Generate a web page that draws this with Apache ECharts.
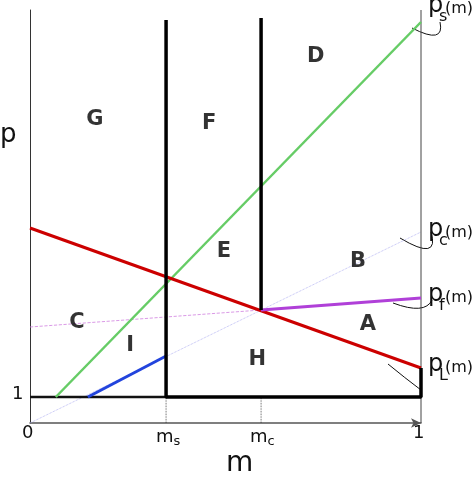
<!DOCTYPE html><html><head><meta charset="utf-8"><script src="https://cdn.jsdelivr.net/npm/echarts@6/dist/echarts.min.js"></script>
<style>html,body{margin:0;background:#fff}#c{width:474px;height:480px}</style></head><body><div id="c"></div><script>
// x in [0,1]; y in pixel-like units above the m axis (p=1 at y=26)
const mS=0.348, mC=0.591;
const psLine=[[0.066,26],[1,401]];
const plLine=[[0,195],[1,55]];
const blueLine=[[0.148,26],[mS,67]];
const pcLine=[[0,0],[1,191]];
const pfSolid=[[mC,113],[1,125]];
const pfDash=[[0,96],[mC,113]];
const boundary=[[mS,403],[mS,26],[1,26],[1,55]];
const boundaryC=[[mC,405],[mC,113]];
const baseThin=[[0,26],[mS,26]];
const dropS=[[mS,0],[mS,26]], dropC=[[mC,0],[mC,26]];
const rightEdge=[[1,0],[1,413]];
const regions=[["G",0.166,303],["F",0.458,299],["D",0.731,366],["E",0.496,171],["B",0.839,161],["C",0.12,100],["I",0.256,77],["H",0.581,63],["A",0.864,98]];
function L(d,c,w,t){return{type:'line',data:d,symbol:'none',silent:true,lineStyle:{color:c,width:w,type:t||'solid'},z:t?1:3};}
const F='DejaVu Sans';
const ch=echarts.init(document.getElementById('c'));
ch.setOption({animation:false,
grid:{left:30,right:53,top:10,bottom:57},
xAxis:{type:'value',min:0,max:1,axisLine:{show:true,lineStyle:{color:'#555',width:1.5},symbol:['none','arrow'],symbolSize:[7,10]},axisTick:{show:false},axisLabel:{show:false},splitLine:{show:false}},
yAxis:{type:'value',min:0,max:413,axisLine:{show:true,lineStyle:{color:'#333',width:1}},axisTick:{show:false},axisLabel:{show:false},splitLine:{show:false}},
series:[
L(pcLine,'#a8a8f0',0.8,'dotted'),L(pfDash,'#d080e0',0.8,'dashed'),
L(dropS,'#333',0.8,'dotted'),L(dropC,'#333',0.8,'dotted'),L(baseThin,'#111',2.5),L(rightEdge,'#444',1),
L(psLine,'#66cc66',2.5),L(plLine,'#cc0000',3),L(blueLine,'#2244dd',3),L(pfSolid,'#b040d8',3),
L(boundary,'#000',3.5),L(boundaryC,'#000',3.5),
{type:'scatter',data:regions.map(r=>({value:[r[1],r[2]],name:r[0]})),symbolSize:0,silent:true,z:10,
 label:{show:true,position:'inside',formatter:p=>p.name,fontFamily:F,fontWeight:'bold',fontSize:21,color:'#000',textBorderWidth:0}}
]});
function T(x,y,t,s){return {type:'text',left:x,top:y,style:{text:t,font:s+'px '+F,fill:'#111'}};}
function lab(x,y,sub){return {type:'group',left:x,top:y,children:[
 {type:'text',style:{text:'p',font:'24px '+F,fill:'#111'},x:0,y:0},
 {type:'text',style:{text:sub,font:'16px '+F,fill:'#111'},x:11,y:15},
 {type:'text',style:{text:'(m)',font:'16px '+F,fill:'#111'},x:17,y:7}]};}
function arrow(x1,y1,cx,cy,x2,y2){return {type:'bezierCurve',shape:{x1:x1,y1:y1,x2:x2,y2:y2,cpx1:cx,cpy1:cy},style:{stroke:'#111',lineWidth:1,fill:null}};}
ch.setOption({graphic:[
 T(0,122,'p',26),T(226,450,'m',28),
 T(12,385,'1',18),T(22,424,'0',18),T(413,424,'1',18),
 {type:'text',left:156,top:428,style:{rich:{a:{font:'18px '+F},b:{font:'13px '+F,padding:[10,0,0,0]}},text:'{a|m}{b|s}',fill:'#111'}},
 {type:'text',left:250,top:428,style:{rich:{a:{font:'18px '+F},b:{font:'13px '+F,padding:[10,0,0,0]}},text:'{a|m}{b|c}',fill:'#111'}},
 lab(428,-6,'s'),lab(428,218,'c'),lab(428,283,'f'),lab(428,353,'L'),
 arrow(440,22,445,45,412,28),arrow(431,232,440,262,400,238),arrow(432,300,425,315,393,303),arrow(421,390,405,378,388,364)
]});
</script></body></html>
